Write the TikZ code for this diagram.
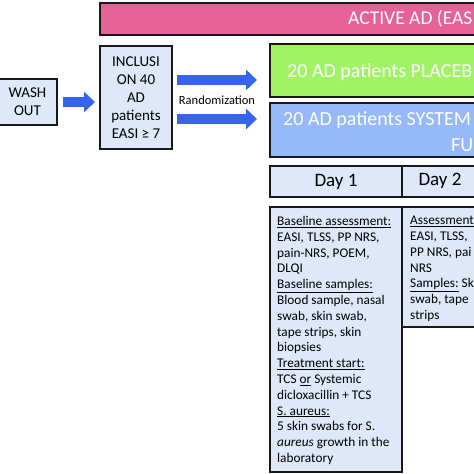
\documentclass[tikz,border=0pt]{standalone}
\usepackage{fontspec}
\setmainfont{Carlito}
\usetikzlibrary{arrows.meta}
\definecolor{pinkbar}{RGB}{230,98,150}
\definecolor{greenbar}{RGB}{160,244,100}
\definecolor{bluebar}{RGB}{150,185,250}
\definecolor{paleblue}{RGB}{222,232,248}
\definecolor{arrowblue}{RGB}{55,100,238}
\definecolor{edge}{RGB}{25,25,25}
\begin{document}
\begin{tikzpicture}[x=1pt,y=-1pt,
  box/.style={draw=edge,line width=1.6pt,inner sep=0pt,outer sep=0pt,anchor=north west},
  barrow/.style={draw=arrowblue,line width=10pt,-{Triangle[length=11pt,width=20pt]}},
  bigtxt/.style={text=white,font=\fontsize{20}{24}\selectfont,anchor=west,inner sep=0pt},
  bodytxt/.style={anchor=north west,inner sep=0pt,align=left,font=\fontsize{13.3}{15.8}\selectfont},
]
\useasboundingbox (0,0) rectangle (474,474);
\clip (0,0) rectangle (474,474);

% top bar
\node[box,fill=pinkbar,minimum width=390pt,minimum height=32pt] (active) at (100,3) {};
\node[bigtxt,font=\fontsize{19.5}{24}\selectfont] (activet) at (348,19) {ACTIVE AD (EAS};

% wash out and inclusion
\node[box,fill=paleblue,minimum width=59pt,minimum height=46pt,align=center,
      font=\fontsize{15}{18}\selectfont] (wash) at (-2,79) {WASH\\OUT};
\node[box,fill=paleblue,minimum width=72pt,minimum height=103pt,align=center,
      font=\fontsize{15}{18}\selectfont] (incl) at (100,46) {INCLUSI\\ON 40\\AD\\patients\\EASI ≥ 7};

% treatment groups
\node[box,fill=greenbar,minimum width=220pt,minimum height=53pt] (green) at (270,44) {};
\node[bigtxt] (greent) at (287,72) {20 AD patients PLACEB};
\node[box,fill=bluebar,minimum width=220pt,minimum height=54pt] (blue) at (270,103) {};
\node[bigtxt] (bluet1) at (283,120) {20 AD patients SYSTEM};
\node[bigtxt] (bluet2) at (451,145) {FU};

% arrows
\draw[barrow,shorten <=6pt,shorten >=5pt] (wash.east |- 0,102) -- (incl.west |- 0,102);
\draw[barrow,shorten <=5pt,shorten >=13pt] (incl.east |- 0,80) -- (green.west |- 0,80);
\draw[barrow,shorten <=5pt,shorten >=13pt] (incl.east |- 0,119) -- (blue.west |- 0,119);
\node[font=\fontsize{12.5}{14}\selectfont,inner sep=0pt] (rand) at (217,100) {Randomization};

% day headers
\node[box,fill=paleblue,minimum width=132pt,minimum height=31pt,
      font=\fontsize{19}{22}\selectfont] (day1) at (270,166) {Day 1};
\node[box,fill=paleblue,minimum width=80pt,minimum height=31pt] (day2) at (402,166) {};
\node[font=\fontsize{19}{22}\selectfont,inner sep=0pt] (day2t) at (440,181) {Day 2};

% day contents
\node[box,fill=paleblue,minimum width=132pt,minimum height=265pt] (c1) at (270,207) {};
\node[box,fill=paleblue,minimum width=80pt,minimum height=120pt] (c2) at (402,207) {};

\node[bodytxt] (t1) at (277,216) {\underline{Baseline assessment:}\\
EASI, TLSS, PP NRS,\\
pain-NRS, POEM,\\
DLQI\\
\underline{Baseline samples:}\\
Blood sample, nasal\\
swab, skin swab,\\
tape strips, skin\\
biopsies\\
\underline{Treatment start:}\\
TCS \underline{or} Systemic\\
dicloxacillin + TCS\\
\underline{S. aureus:}\\
5 skin swabs for S.\\
\textit{aureus} growth in the\\
laboratory};

\node[bodytxt] (t2) at (410,216) {\underline{Assessment}\\
EASI, TLSS,\\
PP NRS, pai\\
NRS\\
\underline{Samples:} Sk\\
swab, tape\\
strips};
\end{tikzpicture}
\end{document}
